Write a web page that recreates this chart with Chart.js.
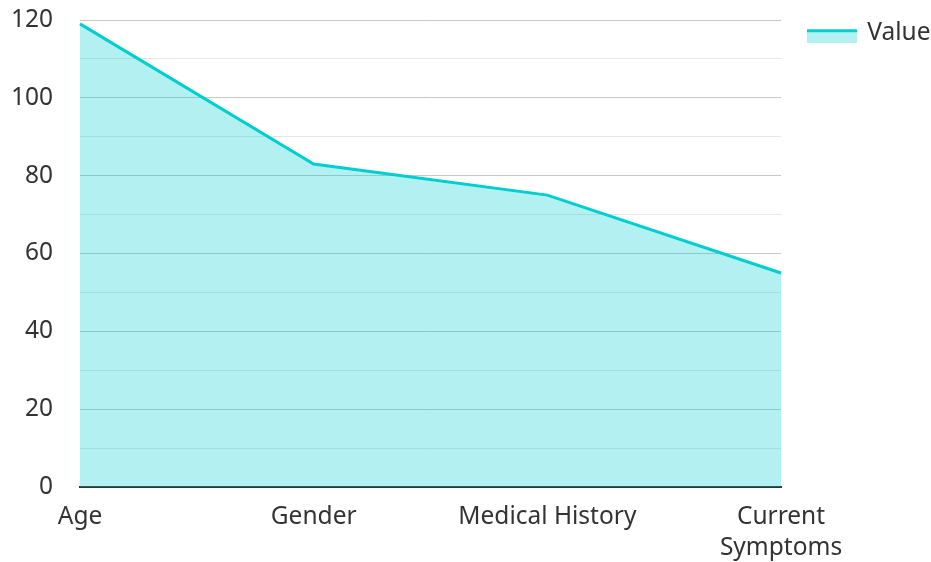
<!DOCTYPE html>
<html>
<head>
<meta charset="utf-8">
<script src="https://cdn.jsdelivr.net/npm/chart.js@4/dist/chart.umd.min.js"></script>
<style>
  html, body { margin: 0; padding: 0; background: #fff; }
  #wrap { width: 931px; height: 562px; }
</style>
</head>
<body>
<div id="wrap"><canvas id="chart"></canvas></div>
<script>
// chart data
const categories = ['Age', 'Gender', 'Medical History', 'Current Symptoms'];
const tickLabels = [['Age'], ['Gender'], ['Medical History'], ['Current', 'Symptoms']];
const values = [119, 83, 75, 55];
const seriesName = 'Value';

const lineColor = '#00CED1';
const fillColor = 'rgba(0, 206, 209, 0.3)';

// legend swatch: filled box with a thick line along the top,
// set in from the left and a little below the text middle
function makeSwatch() {
  const c = document.createElement('canvas');
  c.width = 76;
  c.height = 20;
  const g = c.getContext('2d');
  g.fillStyle = fillColor;
  g.fillRect(26, 6, 50, 14);
  g.fillStyle = lineColor;
  g.fillRect(26, 6, 50, 3);
  return c;
}
const swatch = makeSwatch();

Chart.defaults.font.family = '"Noto Sans", sans-serif';
Chart.defaults.font.size = 24.5;
Chart.defaults.color = '#333';

const ctx = document.getElementById('chart').getContext('2d');
new Chart(ctx, {
  type: 'line',
  data: {
    labels: categories,
    datasets: [{
      label: seriesName,
      data: values,
      borderColor: lineColor,
      backgroundColor: fillColor,
      borderWidth: 3,
      pointRadius: 0,
      tension: 0,
      fill: 'origin',
    }],
  },
  options: {
    responsive: true,
    maintainAspectRatio: false,
    animation: false,
    layout: { padding: { top: 19, left: 0, right: 0, bottom: 0 } },
    plugins: {
      tooltip: { enabled: false },
      legend: {
        position: 'right',
        align: 'start',
        maxWidth: 150,
        labels: {
          usePointStyle: true,
          pointStyleWidth: 72,
          boxHeight: 14,
          padding: 2,
          color: '#333',
          generateLabels: (chart) => {
            const items = Chart.defaults.plugins.legend.labels.generateLabels(chart);
            items.forEach(it => { it.pointStyle = swatch; });
            return items;
          },
        },
      },
    },
    scales: {
      x: {
        offset: false,
        grid: { display: false, drawTicks: false },
        border: { display: true, color: '#333', width: 2 },
        afterFit: (s) => {
          s.height = 75;
          s.paddingLeft = 0;
          s.paddingRight = 150;
        },
        ticks: {
          padding: 14,
          maxRotation: 0,
          autoSkip: false,
          font: { lineHeight: 1.27 },
          callback: (v, i) => tickLabels[i],
        },
      },
      y: {
        min: 0,
        max: 120,
        afterFit: (s) => {
          s.width = 80;
          s.paddingTop = 20;
          s.paddingBottom = 0;
        },
        grid: {
          drawTicks: false,
          color: (c) => (c.tick && c.tick.value % 20 === 0 ? '#c8c8c8' : '#e6e6e6'),
          lineWidth: 1,
        },
        border: { display: false },
        ticks: {
          stepSize: 10,
          padding: 27,
          callback: (v) => (v % 20 === 0 ? v : ''),
        },
      },
    },
  },
});
</script>
</body>
</html>
